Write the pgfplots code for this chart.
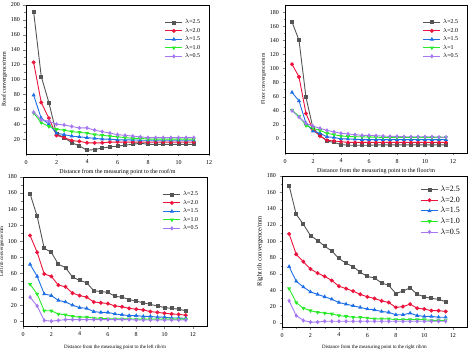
\documentclass[border=0pt]{standalone}
\usepackage{pgfplots}
\pgfplotsset{compat=1.18}
\usepackage{fontspec}
\setmainfont{Liberation Serif}
\definecolor{cg}{RGB}{85,85,85}
\definecolor{cr}{RGB}{235,20,60}
\definecolor{cb}{RGB}{30,110,230}
\definecolor{cgr}{RGB}{40,235,40}
\definecolor{cp}{RGB}{165,120,240}
\pgfplotsset{
  panel/.style={scale only axis, axis line style={line width=0.5pt},
    tick label style={font=\fontsize{6}{7}\selectfont},
    label style={font=\fontsize{6}{7}\selectfont},
    /pgf/number format/assume math mode=true,
    tick pos=left, tick align=outside, major tick length=2.5pt, minor tick length=1.5pt,
    minor x tick num=1, minor y tick num=1,
    legend style={draw=none, fill=none, font=\fontsize{6}{7}\selectfont, row sep=-1.2pt, at={(0.98,0.93)}, anchor=north east},
    legend cell align=left,
    every axis plot/.append style={line width=0.9pt, mark size=1.5pt},
  },
  sg/.style={cg, mark=square*},
  sr/.style={cr, mark=*},
  sb/.style={cb, mark=triangle*},
  sgr/.style={cgr, mark=triangle*, mark options={rotate=180}},
  sp/.style={cp, mark=diamond*},
}
\begin{document}
\begin{tikzpicture}
\useasboundingbox (0pt,0pt) rectangle (474pt,351pt);
% Panel 1 roof
\begin{axis}[panel, at={(26pt,197pt)}, anchor=south west, width=183pt, height=149pt,
  xmin=0, xmax=12, ymin=0, ymax=200, xtick={0,2,...,12}, ytick={20,40,...,200},
  xlabel={Distance from the measuring point to the roof/m}, ylabel={Roof convergence/mm},
  xlabel style={yshift=2pt}, ylabel style={yshift=-3pt}]
\addplot[sg] coordinates {(0.5,191)(1,104)(1.5,69)(2,27)(2.5,22)(3,15)(3.5,11)(4,5)(4.5,6)(5,8)(5.5,9.5)(6,10.5)(6.5,12)(7,13)(7.5,14.5)(8,13)(8.5,13)(9,13)(9.5,13)(10,13)(10.5,13)(11,13)};
\addlegendentry{$\lambda$=2.5}
\addplot[sr] coordinates {(0.5,123)(1,69)(1.5,48)(2,25)(2.5,22)(3,18)(3.5,17)(4,15)(4.5,15)(5,15)(5.5,16)(6,16)(6.5,16)(7,16)(7.5,16)(8,16)(8.5,16)(9,16)(9.5,16)(10,16)(10.5,16)(11,16)};
\addlegendentry{$\lambda$=2.0}
\addplot[sb] coordinates {(0.5,79)(1,48)(1.5,40)(2,28)(2.5,26)(3,24)(3.5,23)(4,22)(4.5,21)(5,20)(5.5,20)(6,19)(6.5,19)(7,19)(7.5,18.5)(8,18.5)(8.5,18.5)(9,18.5)(9.5,18.5)(10,18.5)(10.5,18.5)(11,18.5)};
\addlegendentry{$\lambda$=1.5}
\addplot[sgr] coordinates {(0.5,55)(1,42)(1.5,37)(2,33)(2.5,32)(3,30)(3.5,29)(4,28)(4.5,26)(5,25)(5.5,24)(6,23)(6.5,22)(7,21)(7.5,21)(8,20)(8.5,20)(9,20)(9.5,20)(10,20)(10.5,20)(11,20)};
\addlegendentry{$\lambda$=1.0}
\addplot[sp] coordinates {(0.5,56)(1,46)(1.5,44)(2,40)(2.5,39)(3,37)(3.5,35)(4,35)(4.5,32)(5,30)(5.5,28)(6,26)(6.5,25)(7,24)(7.5,23)(8,22)(8.5,22)(9,22)(9.5,22)(10,22)(10.5,22)(11,22)};
\addlegendentry{$\lambda$=0.5}
\end{axis}
% Panel 2 floor
\begin{axis}[panel, at={(285pt,198pt)}, anchor=south west, width=182pt, height=148pt,
  xmin=0, xmax=13, ymin=-20, ymax=190, xtick={0,2,...,12}, ytick={0,20,...,180},
  xlabel={Distance from the measuring point to the floor/m}, ylabel={Floor convergence/mm},
  xlabel style={yshift=2pt}, ylabel style={yshift=-3pt, font=\fontsize{5.5}{6}\selectfont}]
\addplot[sg] coordinates {(0.5,166)(1,140)(1.5,59)(2,15)(2.5,5)(3,-3)(3.5,-5)(4,-8)(4.5,-9)(5,-9)(5.5,-9)(6,-9)(6.5,-8.5)(7,-8.5)(7.5,-8.5)(8,-8.5)(8.5,-8.5)(9,-8.5)(9.5,-8.5)(10,-8.5)(10.5,-8.5)(11,-8.5)(11.5,-8.5)};
\addlegendentry{$\lambda$=2.5}
\addplot[sr] coordinates {(0.5,106)(1,88)(1.5,36)(2,13)(2.5,4)(3,-2)(3.5,-3)(4,-4)(4.5,-5)(5,-5)(5.5,-5)(6,-5)(6.5,-5)(7,-5)(7.5,-5)(8,-5)(8.5,-5)(9,-5)(9.5,-5)(10,-5)(10.5,-5)(11,-5)(11.5,-5)};
\addlegendentry{$\lambda$=2.0}
\addplot[sb] coordinates {(0.5,66)(1,54)(1.5,22)(2,11)(2.5,8)(3,3)(3.5,2)(4,0)(4.5,0)(5,-0.5)(5.5,-1)(6,-1)(6.5,-1)(7,-1)(7.5,-1)(8,-1)(8.5,-1)(9,-1)(9.5,-1)(10,-1)(10.5,-1)(11,-1)(11.5,-1)};
\addlegendentry{$\lambda$=1.5}
\addplot[sgr] coordinates {(0.5,41)(1,32)(1.5,19)(2,15)(2.5,12)(3,8)(3.5,6)(4,4)(4.5,3.5)(5,3)(5.5,3)(6,2.5)(6.5,2.5)(7,2)(7.5,2)(8,2)(8.5,2)(9,2)(9.5,2)(10,2)(10.5,2)(11,2)(11.5,2)};
\addlegendentry{$\lambda$=1}
\addplot[sp] coordinates {(0.5,40)(1,31)(1.5,22)(2,18)(2.5,15)(3,12)(3.5,10)(4,8)(4.5,7)(5,6)(5.5,5)(6,5)(6.5,4.5)(7,4)(7.5,3.5)(8,3.5)(8.5,3)(9,3)(9.5,3)(10,3)(10.5,3)(11,2.5)(11.5,2.5)};
\addlegendentry{$\lambda$=0.5}
\end{axis}
% Panel 3 left rib
\begin{axis}[panel, at={(23pt,25pt)}, anchor=south west, width=184pt, height=149pt,
  xmin=0, xmax=13, ymin=-6, ymax=180, xtick={0,2,...,12}, ytick={0,20,...,180},
  xlabel={Distance from the measuring point to the left rib/m}, ylabel={Left rib convergence/mm},
  xlabel style={yshift=-2pt, font=\fontsize{5}{6}\selectfont}, ylabel style={yshift=-3pt, font=\fontsize{5}{6}\selectfont}]
\addplot[sg] coordinates {(0.5,159)(1,131)(1.5,91)(2,86)(2.5,71)(3,67)(3.5,55)(4,51)(4.5,48)(5,38)(5.5,37)(6,36)(6.5,31)(7,30)(7.5,27)(8,25)(8.5,23)(9,21)(9.5,19)(10,17)(10.5,16)(11,15)(11.5,13)};
\addlegendentry{$\lambda$=2.5}
\addplot[sr] coordinates {(0.5,107)(1,86)(1.5,59)(2,56)(2.5,45)(3,43)(3.5,35)(4,32)(4.5,30)(5,24)(5.5,23)(6,22)(6.5,19)(7,18)(7.5,16)(8,15)(8.5,14)(9,12)(9.5,11)(10,10)(10.5,9)(11,8.5)(11.5,7.5)};
\addlegendentry{$\lambda$=2.0}
\addplot[sb] coordinates {(0.5,71)(1,56)(1.5,34)(2,32)(2.5,26)(3,24)(3.5,20)(4,17)(4.5,16)(5,12)(5.5,11)(6,11)(6.5,9)(7,8)(7.5,7)(8,7)(8.5,6)(9,6)(9.5,5)(10,5)(10.5,4)(11,4)(11.5,3.5)};
\addlegendentry{$\lambda$=1.5}
\addplot[sgr] coordinates {(0.5,46)(1,34)(1.5,13)(2,13)(2.5,9)(3,8)(3.5,6)(4,5)(4.5,5)(5,4)(5.5,3.5)(6,3)(6.5,3)(7,3)(7.5,3)(8,2.5)(8.5,2.5)(9,2.5)(9.5,2.5)(10,2.5)(10.5,2.5)(11,2.5)(11.5,2.5)};
\addlegendentry{$\lambda$=1.0}
\addplot[sp] coordinates {(0.5,30)(1,19)(1.5,1)(2,0)(2.5,1)(3,2)(3.5,2)(4,2)(4.5,2)(5,2)(5.5,2)(6,2)(6.5,2)(7,2)(7.5,2)(8,1.5)(8.5,1.5)(9,1.5)(9.5,1.5)(10,1.5)(10.5,1.5)(11,1.5)(11.5,1.5)};
\addlegendentry{$\lambda$=0.5}
\end{axis}
% Panel 4 right rib
\begin{axis}[panel, at={(282pt,24pt)}, anchor=south west, width=185pt, height=151pt,
  xmin=0, xmax=13, ymin=-5, ymax=180, xtick={0,2,...,12}, ytick={0,20,...,180},
  xlabel={Distance from the measuring point to the right rib/m}, ylabel={Right rib convergence/mm},
  xlabel style={yshift=-1pt, font=\fontsize{5}{6}\selectfont}, ylabel style={yshift=-3pt, font=\fontsize{6.5}{7}\selectfont},
  legend style={font=\fontsize{8}{9}\selectfont, row sep=-0.5pt, at={(0.99,0.96)}}]
\addplot[sg] coordinates {(0.5,168)(1,133)(1.5,121)(2,107)(2.5,101)(3,94)(3.5,88)(4,79)(4.5,73)(5,69)(5.5,62)(6,57)(6.5,55)(7,49)(7.5,46)(8,36)(8.5,39)(9,43)(9.5,35)(10,32)(10.5,30)(11,29)(11.5,26)};
\addlegendentry{$\lambda$=2.5}
\addplot[sr] coordinates {(0.5,109)(1,84)(1.5,75)(2,66)(2.5,61)(3,57)(3.5,52)(4,45)(4.5,42)(5,39)(5.5,35)(6,32)(6.5,30)(7,27)(7.5,25)(8,19)(8.5,20)(9,23)(9.5,18)(10,17)(10.5,15)(11,15)(11.5,14)};
\addlegendentry{$\lambda$=2.0}
\addplot[sb] coordinates {(0.5,69)(1,51)(1.5,44)(2,38)(2.5,35)(3,32)(3.5,29)(4,25)(4.5,23)(5,21)(5.5,19)(6,17)(6.5,16)(7,14)(7.5,13)(8,10)(8.5,10)(9,12)(9.5,9)(10,8)(10.5,8)(11,7)(11.5,7)};
\addlegendentry{$\lambda$=1.5}
\addplot[sgr] coordinates {(0.5,42)(1,25)(1.5,18)(2,15)(2.5,13)(3,12)(3.5,11)(4,9)(4.5,8)(5,7)(5.5,7)(6,6)(6.5,5)(7,5)(7.5,5)(8,4)(8.5,4)(9,4)(9.5,4)(10,4)(10.5,3)(11,3)(11.5,3)};
\addlegendentry{$\lambda$=1.0}
\addplot[sp] coordinates {(0.5,27)(1,9)(1.5,3)(2,1)(2.5,1)(3,2)(3.5,2)(4,2)(4.5,2)(5,2)(5.5,2)(6,2)(6.5,2)(7,2)(7.5,2)(8,2)(8.5,2)(9,2)(9.5,2)(10,2)(10.5,2)(11,2)(11.5,2)};
\addlegendentry{$\lambda$=0.5}
\end{axis}
\end{tikzpicture}
\end{document}
